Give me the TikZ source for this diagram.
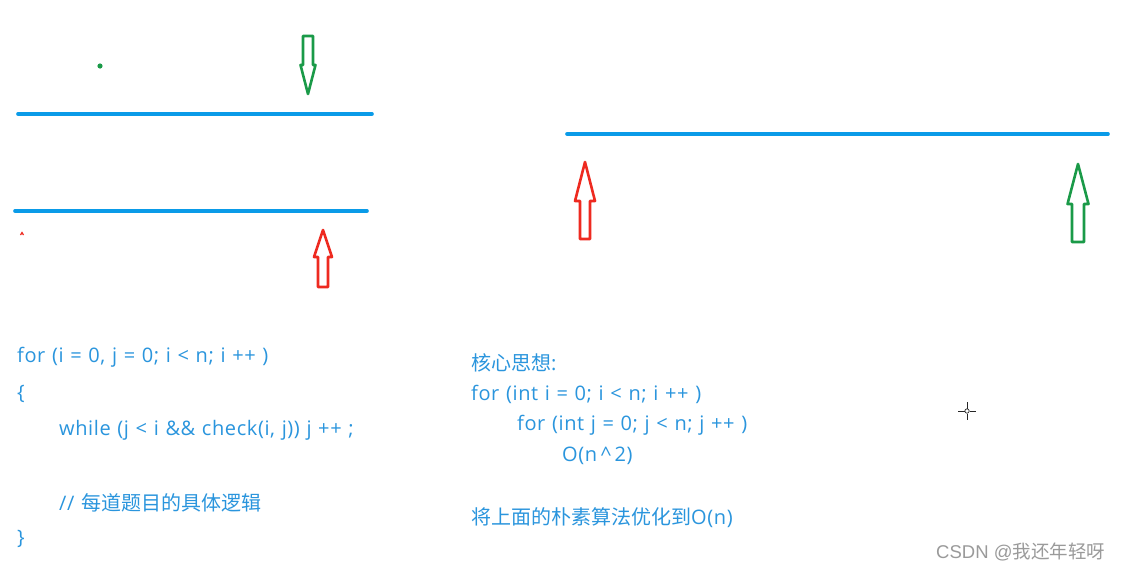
\documentclass[tikz,border=0pt]{standalone}
\usepackage{fontspec}
\usetikzlibrary{calc}
\newfontfamily\cjk{Noto Sans CJK SC}
\newfontfamily\lat[LetterSpace=3,WordSpace=1.15]{Open Sans}
\newfontfamily\wmlat{Liberation Sans}
\definecolor{lineblue}{HTML}{0A9BE8}
\definecolor{txtblue}{HTML}{2A95DD}
\definecolor{arred}{HTML}{EE2A20}
\definecolor{argreen}{HTML}{1A9A48}
\definecolor{wmgray}{HTML}{9A9A9A}
\newcommand\zh[1]{{\cjk\fontsize{20}{20}\selectfont #1}}
\tikzset{
  bar/.style={lineblue, line width=3.6pt, line cap=round},
  redarrow/.style={draw=arred, fill=white, line width=2.6pt, line join=round},
  greenarrow/.style={draw=argreen, fill=white, line width=2.6pt, line join=round},
  code/.style={anchor=west, inner sep=0pt, text=txtblue, font=\lat\fontsize{20}{20}\selectfont},
  wm/.style={anchor=west, inner sep=0pt, text=wmgray, font=\wmlat\fontsize{18.5}{18.5}\selectfont},
}
\begin{document}
\begin{tikzpicture}[x=1pt,y=-1pt]
\useasboundingbox (0,0) rectangle (1123,571);
\fill[white] (0,0) rectangle (1123,571);
% blue bars
\coordinate (b1a) at (18,114); \coordinate (b1b) at (372,114);
\coordinate (b2a) at (15,211); \coordinate (b2b) at (367,211);
\coordinate (b3a) at (567,134); \coordinate (b3b) at (1108,134);
\draw[bar] (b1a) -- (b1b);
\draw[bar] (b2a) -- (b2b);
\draw[bar] (b3a) -- (b3b);
% green dot and red tick
\fill[argreen] (100,66) circle (2.6);
\draw[arred, line width=1.2pt] (20.5,235) -- (22,232.5) -- (23.5,235);
% left arrows
\draw[greenarrow] (308,94) -- (315.5,65) -- (313,65) -- (313,36) -- (303,36) -- (303,65) -- (300.5,65) -- cycle;
\draw[redarrow] (323,230) -- (332,257) -- (328,257) -- (328,287) -- (318,287) -- (318,257) -- (314,257) -- cycle;
% right arrows
\draw[redarrow] (585,162) -- (595,201) -- (590,201) -- (590,239) -- (580,239) -- (580,201) -- (575,201) -- cycle;
\draw[greenarrow] (1078,164) -- (1088.5,204) -- (1084,204) -- (1084,242) -- (1072,242) -- (1072,204) -- (1067.5,204) -- cycle;
% left code
\node[code] (l1) at (17,357) {for (i = 0, j = 0; i < n; i ++ )};
\node[code] (l2) at (17,394) {\{};
\node[code] (l3) at (59,430) {while (j < i \&\& check(i, j)) j ++ ;};
\node[code] (l4) at (59,503) {// \zh{每道题目的具体逻辑}};
\node[code] (l5) at (17,539) {\}};
% right code
\node[code] (r1) at (471,363) {\zh{核心思想}:};
\node[code] (r2) at (471,394) {for (int i = 0; i < n; i ++ )};
\node[code] (r3) at (517,425) {for (int j = 0; j < n; j ++ )};
\node[code] (r4) at (562,456) {O(n\,\^{}\,2)};
\node[code] (r5) at (471,518) {\zh{将上面的朴素算法优化到}O(n)};
% cursor
\coordinate (cur) at (967,411);
\draw[black!85, line width=0.9pt] ($(cur)+(-9,0)$) -- ($(cur)+(-2.5,0)$) ($(cur)+(2.5,0)$) -- ($(cur)+(9,0)$)
  ($(cur)+(0,-9)$) -- ($(cur)+(0,-2.5)$) ($(cur)+(0,2.5)$) -- ($(cur)+(0,9)$);
\draw[black!85, line width=0.7pt] (cur) circle (2.2);
% watermark
\node[wm] (w) at (936,552) {CSDN @{\cjk 我还年轻呀}};
\end{tikzpicture}
\end{document}
